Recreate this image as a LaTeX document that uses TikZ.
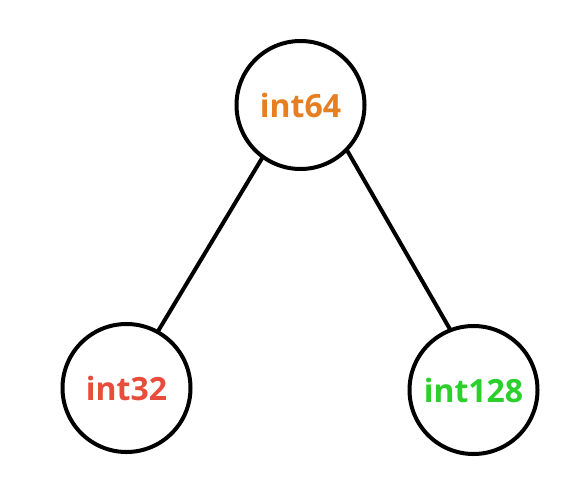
\documentclass[tikz,border=0pt]{standalone}
\usepackage{fontspec}
\setmainfont{Open Sans}
\definecolor{orange64}{RGB}{230,126,34}
\definecolor{red32}{RGB}{231,76,60}
\definecolor{green128}{RGB}{44,208,44}

\begin{document}
\begin{tikzpicture}[x=1pt, y=-1pt]
  \tikzset{VertexStyle/.style = {
  shape = circle,
  fill = white,
  inner sep = 0pt,
  outer sep = 0pt,
  minimum size = 128pt,
  line width = 4pt,
  font = \fontsize{32}{38}\selectfont\bfseries,
  draw}}
  \useasboundingbox (0,0) rectangle (583,503);
  \node [VertexStyle, text=orange64] (T) at (300.5,105) {int64};
  \node [VertexStyle, text=red32] (L) at (126.5,388) {int32};
  \node [VertexStyle, text=green128] (R) at (473.5,390) {int128};
  \draw [line width=4pt] (T.234) -- (L.61);
  \draw [line width=4pt] (T.-44) -- (R.111);
\end{tikzpicture}
\end{document}
